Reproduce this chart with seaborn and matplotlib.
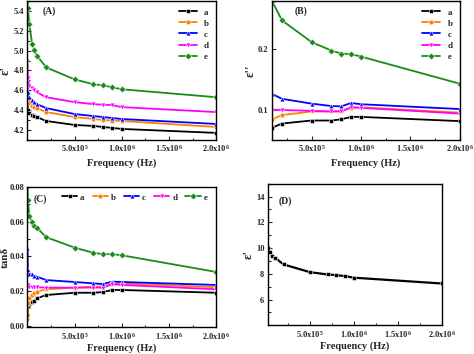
#Dielectric data for samples a-e, four panels

import pandas as pd
import matplotlib
matplotlib.use("Agg")
import matplotlib.pyplot as plt
import seaborn as sns
from matplotlib.ticker import MultipleLocator

#data
freq = [1e3, 5e3, 2e4, 5e4, 7e4, 1e5, 2e5, 5e5, 7e5, 8e5, 9e5, 1e6, 2e6]
freq_b = [1e5, 2e5, 5e5, 7e5, 8e5, 9e5, 1e6, 2e6]
samples = ["a", "b", "c", "d", "e"]

# (A) real permittivity
eps1_a = [4.50, 4.40, 4.37, 4.35, 4.34, 4.33, 4.29, 4.25, 4.24, 4.23, 4.22, 4.21, 4.17]
eps1_b = [4.57, 4.50, 4.47, 4.44, 4.43, 4.42, 4.38, 4.33, 4.31, 4.30, 4.295, 4.29, 4.23]
eps1_c = [4.65, 4.58, 4.53, 4.50, 4.48, 4.46, 4.42, 4.36, 4.34, 4.33, 4.32, 4.31, 4.26]
eps1_d = [4.90, 4.72, 4.64, 4.62, 4.60, 4.58, 4.53, 4.48, 4.46, 4.455, 4.45, 4.43, 4.38]
eps1_e = [5.60, 5.43, 5.27, 5.07, 5.01, 4.95, 4.83, 4.71, 4.66, 4.65, 4.63, 4.61, 4.53]

# (B) imaginary permittivity
eps2_a = [0.070, 0.077, 0.082, 0.082, 0.084, 0.088, 0.088, 0.081]
eps2_b = [0.084, 0.091, 0.097, 0.097, 0.098, 0.103, 0.104, 0.095]
eps2_c = [0.126, 0.118, 0.110, 0.106, 0.1055, 0.111, 0.109, 0.101]
eps2_d = [0.100, 0.0995, 0.098, 0.097, 0.097, 0.104, 0.103, 0.0935]
eps2_e = [0.280, 0.248, 0.212, 0.198, 0.193, 0.192, 0.188, 0.143]

# (C) loss tangent
tan_a = [0.006, 0.0115, 0.0125, 0.0138, 0.0144, 0.0158, 0.0177, 0.019, 0.019, 0.0194, 0.0206, 0.0206, 0.019]
tan_b = [0.004, 0.013, 0.016, 0.0177, 0.0187, 0.0196, 0.021, 0.022, 0.0225, 0.0226, 0.024, 0.0244, 0.0222]
tan_c = [0.045, 0.032, 0.030, 0.0296, 0.0288, 0.0283, 0.0263, 0.0252, 0.0244, 0.024, 0.0254, 0.0252, 0.0235]
tan_d = [0.0225, 0.0232, 0.0225, 0.0222, 0.0222, 0.0221, 0.022, 0.0219, 0.022, 0.0219, 0.024, 0.0235, 0.021]
tan_e = [0.085, 0.0725, 0.063, 0.060, 0.0575, 0.0565, 0.051, 0.045, 0.042, 0.0413, 0.0412, 0.0406, 0.031]

# (D) single sample
eps_d_panel = [10.9, 10.4, 10.0, 9.7, 9.35, 9.25, 8.73, 8.13, 7.95, 7.9, 7.82, 7.7, 7.25]

xtick_vals = [5e5, 1e6, 1.5e6, 2e6]
xtick_labels = ["5.0x10$^{5}$", "1.0x10$^{6}$", "1.5x10$^{6}$", "2.0x10$^{6}$"]

colors = ["black", "#ff8000", "#0000ff", "#ff00ff", "#1a8a1a"]
marks = ["s", "o", "^", "v", "D"]


def long_df(x, series):
    rows = []
    for name, vals in zip(samples, series):
        for xi, yi in zip(x, vals):
            rows.append({"freq": xi, "val": yi, "sample": name})
    return pd.DataFrame(rows)


df_a = long_df(freq, [eps1_a, eps1_b, eps1_c, eps1_d, eps1_e])
df_b = long_df(freq_b, [eps2_a, eps2_b, eps2_c, eps2_d, eps2_e])
df_c = long_df(freq, [tan_a, tan_b, tan_c, tan_d, tan_e])
df_d = pd.DataFrame({"freq": freq, "val": eps_d_panel})

sns.set_style("ticks")
plt.rcParams["font.family"] = ["Liberation Serif", "DejaVu Serif"]
plt.rcParams["font.weight"] = "bold"
plt.rcParams["axes.labelweight"] = "bold"
plt.rcParams["mathtext.fontset"] = "custom"
plt.rcParams["mathtext.rm"] = "Liberation Serif:bold"
plt.rcParams["mathtext.bf"] = "Liberation Serif:bold"
plt.rcParams["mathtext.it"] = "Liberation Serif:bold"
plt.rcParams["mathtext.default"] = "bf"

fig = plt.figure(figsize=(4.74, 3.54), dpi=100)
ax_a = fig.add_axes([0.058, 0.605, 0.398, 0.392])
ax_b = fig.add_axes([0.574, 0.605, 0.396, 0.392])
ax_c = fig.add_axes([0.058, 0.075, 0.398, 0.397])
ax_d = fig.add_axes([0.565, 0.081, 0.367, 0.400])


def draw(ax, df):
    sns.lineplot(data=df, x="freq", y="val", hue="sample", style="sample",
                 palette=colors, markers=marks, dashes=False, ax=ax,
                 linewidth=1.3, markersize=3.5, markeredgewidth=0.4)


draw(ax_a, df_a)
draw(ax_b, df_b)
draw(ax_c, df_c)
sns.lineplot(data=df_d, x="freq", y="val", color="black", marker="s",
             linewidth=1.6, markersize=3.5, markeredgewidth=0.4, ax=ax_d)

for ax in [ax_a, ax_b, ax_c, ax_d]:
    ax.set_xticks(xtick_vals)
    ax.set_xticklabels(xtick_labels)
    ax.xaxis.set_minor_locator(MultipleLocator(2.5e5))
    ax.tick_params(direction="in", which="both", labelsize=6, width=0.8, pad=2.5)
    ax.tick_params(which="major", length=3)
    ax.tick_params(which="minor", length=1.8)
    for s in ax.spines.values():
        s.set_linewidth(1.0)
        s.set_color("black")

for ax in [ax_a, ax_b]:
    ax.set_xlabel("Frequency (Hz)", fontsize=7.5, fontweight="bold", labelpad=3)
for ax in [ax_c, ax_d]:
    ax.set_xlabel("Frequency (Hz)", fontsize=7.5, fontweight="bold", labelpad=1)

ax_a.set_xlim(1e3, 2e6)
ax_a.set_ylim(4.1, 5.5)
ax_a.set_yticks([4.2, 4.4, 4.6, 4.8, 5.0, 5.2, 5.4])
ax_a.yaxis.set_minor_locator(MultipleLocator(0.1))
ax_a.set_ylabel("ε'", fontsize=9, labelpad=1)

ax_b.set_xlim(1e5, 2e6)
ax_b.set_ylim(0.05, 0.28)
ax_b.set_yticks([0.1, 0.2])
ax_b.set_yticklabels(["0.1", "0.2"])
ax_b.set_ylabel("ε''", fontsize=9, labelpad=1)

ax_c.set_xlim(1e3, 2e6)
ax_c.set_ylim(-0.001, 0.08)
ax_c.set_yticks([0.0, 0.02, 0.04, 0.06, 0.08])
ax_c.set_yticklabels(["0.00", "0.02", "0.04", "0.06", "0.08"])
ax_c.yaxis.set_minor_locator(MultipleLocator(0.01))
ax_c.set_ylabel("tanδ", fontsize=8)
ax_c.yaxis.set_label_coords(-0.092, 0.5)

ax_d.set_xlim(2e4, 2e6)
ax_d.set_ylim(4, 15)
ax_d.set_yticks([6, 8, 10, 12, 14])
ax_d.yaxis.set_minor_locator(MultipleLocator(1))
ax_d.set_ylabel("ε'", fontsize=9, labelpad=1)

for ax in [ax_a, ax_b, ax_c, ax_d]:
    for lab in ax.get_xticklabels() + ax.get_yticklabels():
        lab.set_fontweight("bold")

#legends
for ax in [ax_a, ax_b]:
    h, l = ax.get_legend_handles_labels()
    ax.legend(h, l, loc="upper right", frameon=False,
              handlelength=2.0, labelspacing=0.3, borderaxespad=0.4,
              prop={"weight": "bold", "size": 6.5})
h, l = ax_c.get_legend_handles_labels()
ax_c.legend(h, l, loc="upper left", ncol=5, frameon=False,
            handlelength=1.7, columnspacing=0.9, handletextpad=0.3,
            borderaxespad=0.3, bbox_to_anchor=(0.15, 1.0),
            prop={"weight": "bold", "size": 6.5})

#panel labels
ax_a.text(0.08, 0.93, "(A)", transform=ax_a.transAxes, fontsize=7, fontweight="bold", va="center")
ax_b.text(0.12, 0.93, "(B)", transform=ax_b.transAxes, fontsize=7, fontweight="bold", va="center")
ax_c.text(0.03, 0.91, "(C)", transform=ax_c.transAxes, fontsize=7, fontweight="bold", va="center")
ax_d.text(0.06, 0.88, "(D)", transform=ax_d.transAxes, fontsize=7, fontweight="bold", va="center")

fig.savefig("out.png", dpi=100)
